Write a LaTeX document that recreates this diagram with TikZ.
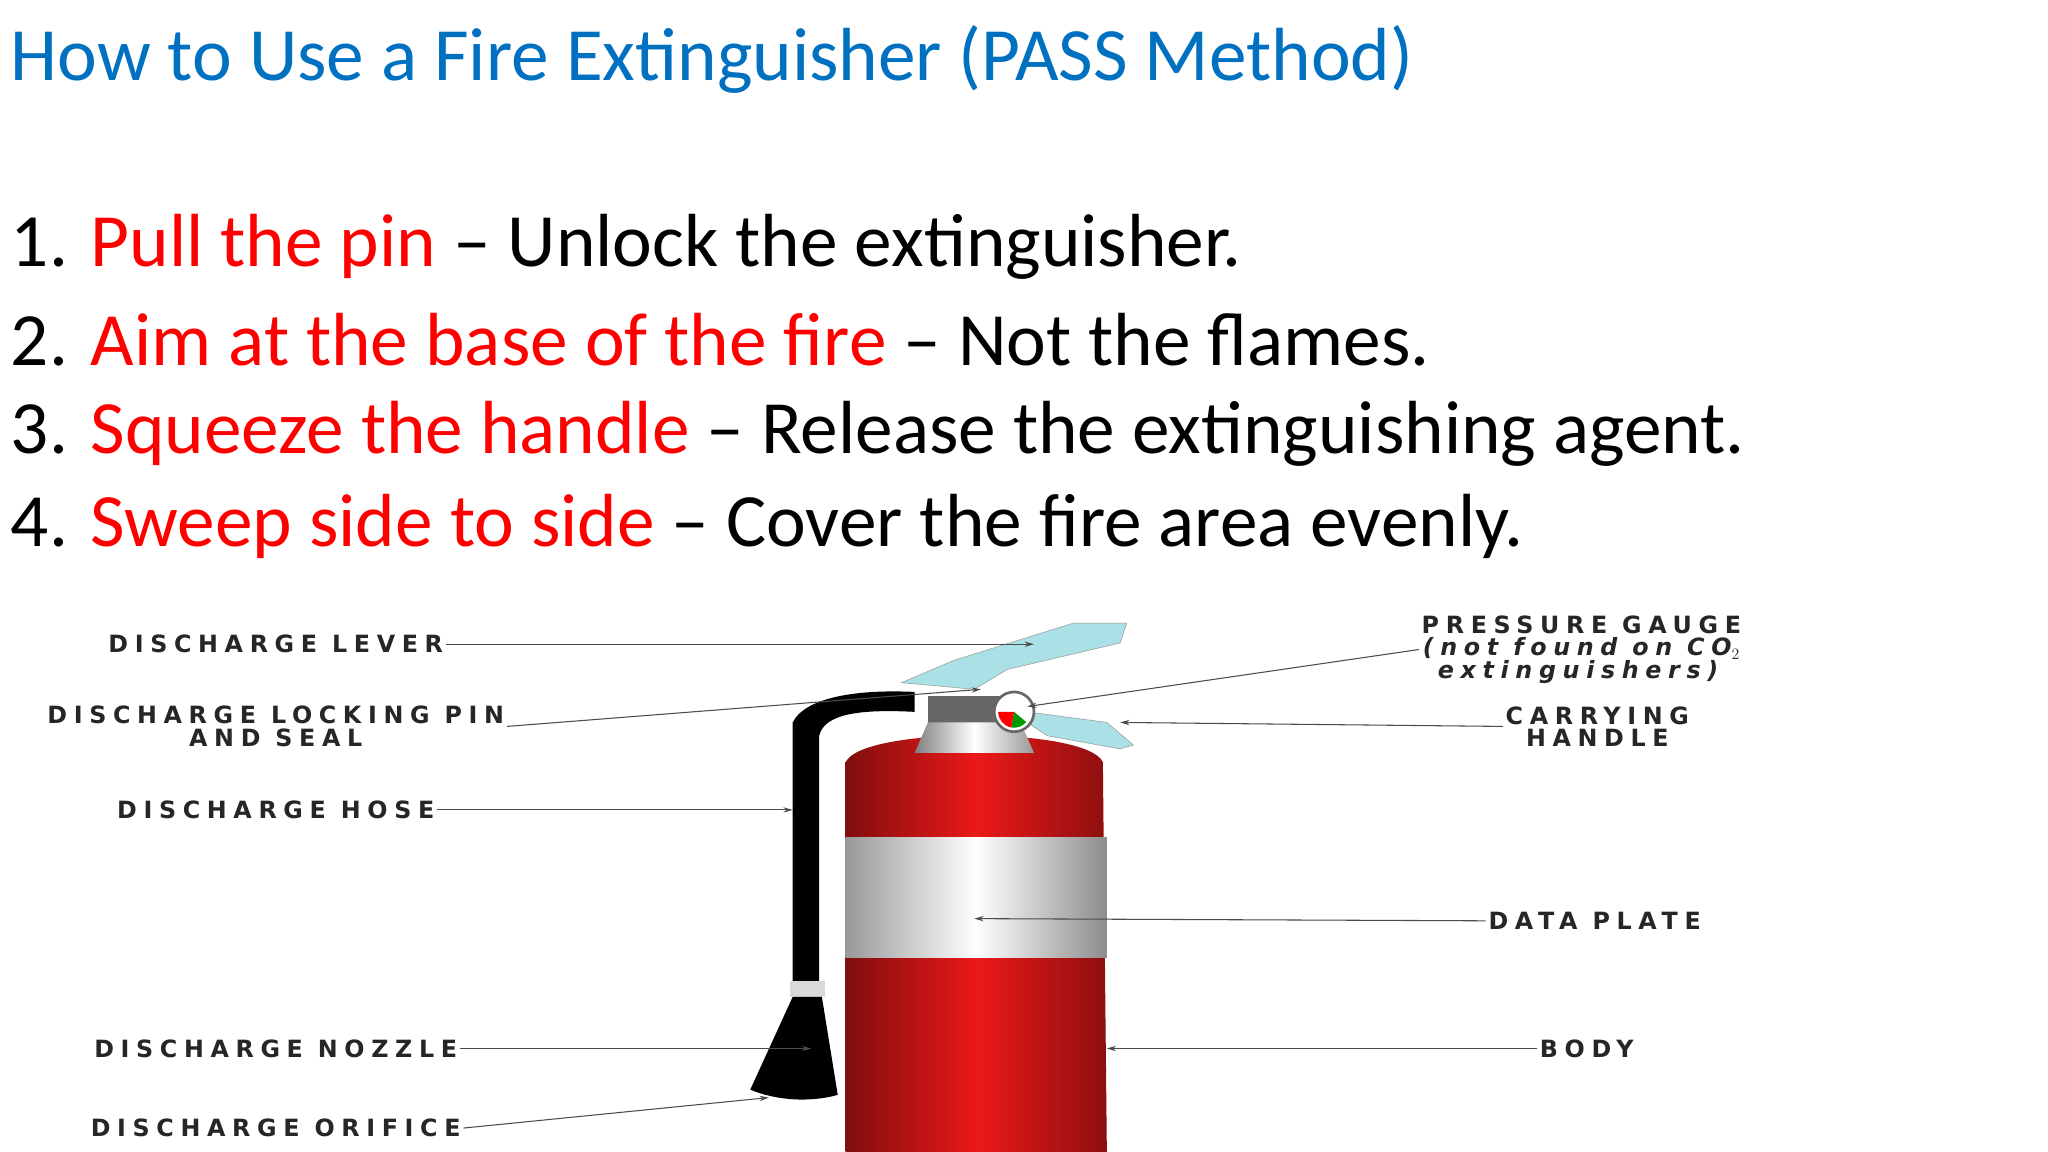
\documentclass[tikz,border=0pt]{standalone}
\usepackage{fontspec}
\setmainfont{Carlito}
\newfontfamily\lab[LetterSpace=28]{DejaVu Sans Bold}
\usetikzlibrary{arrows.meta}
\definecolor{tblue}{RGB}{0,112,192}
\definecolor{ered}{RGB}{235,25,25}
\definecolor{lblue}{RGB}{170,225,230}
\begin{document}
\begin{tikzpicture}[x=1bp,y=-1bp,
  lbl/.style={font=\lab\fontsize{18}{17}\selectfont,align=center,text=black!85,inner sep=2bp},
  lead/.style={draw=black!70,line width=0.8bp,-{Stealth[length=7bp,width=4bp]}},
  txt/.style={anchor=west,font=\fontsize{57}{60}\selectfont,inner sep=0}]
\useasboundingbox[fill=white] (0,0) rectangle (1545,869);
\node[anchor=west,inner sep=0,text=tblue,font=\fontsize{57}{60}\selectfont] (title) at (8,45) {How to Use a Fire Extinguisher (PASS Method)};
\node[txt] (l1) at (8,186) {1. \textcolor{red}{Pull the pin} – Unlock the extinguisher.};
\node[txt] (l2) at (8,256) {2. \textcolor{red}{Aim at the base of the fire} – Not the flames.};
\node[txt] (l3) at (8,327) {3. \textcolor{red}{Squeeze the handle} – Release the extinguishing agent.};
\node[txt] (l4) at (8,397) {4. \textcolor{red}{Sweep side to side} – Cover the fire area evenly.};
% extinguisher
\fill[black] (598,545) .. controls (608,525) and (650,520) .. (690,522) -- (690,537) .. controls (650,535) and (622,538) .. (618,555) -- (618,745) -- (598,745) -- cycle;
\fill[white!85!black] (596,740) rectangle (622,752);
\fill[black] (598,752) -- (620,752) -- (632,826) .. controls (610,832) and (585,830) .. (566,822) -- cycle;
\shade[left color=ered!55!black,right color=ered!60!black,middle color=ered] (638,575) .. controls (650,548) and (820,548) .. (832,575) -- (835,869) -- (638,869) -- cycle;
\shade[left color=black!40,right color=black!45,middle color=white] (638,632) rectangle (835,722);
\fill[black!60] (700,525) rectangle (770,555);
\shade[left color=black!50,right color=black!40,middle color=white] (700,545) -- (770,545) -- (780,568) -- (690,568) -- cycle;
\fill[lblue,draw=black!40] (680,515) -- (720,498) -- (810,470) -- (850,470) -- (845,485) -- (760,505) -- (735,520) -- cycle;
\fill[lblue,draw=black!40] (760,535) -- (835,545) -- (855,562) -- (845,565) -- (790,555) -- cycle;
\draw[fill=white,draw=black!60,line width=2bp] (765,537) circle (15);
\fill[green!60!black] (765,537) -- ++(100:12) arc (100:40:12) -- cycle;
\fill[red] (765,537) -- ++(180:12) arc (180:100:12) -- cycle;
% labels
\node[lbl] (a) at (208,486) {DISCHARGE LEVER};
\node[lbl] (b) at (208,548) {DISCHARGE LOCKING PIN\\AND SEAL};
\node[lbl] (c) at (208,611) {DISCHARGE HOSE};
\node[lbl] (d) at (208,791) {DISCHARGE NOZZLE};
\node[lbl] (e) at (208,851) {DISCHARGE ORIFICE};
\node[lbl] (f) at (1193,490) {PRESSURE GAUGE\\\textit{(not found on CO$_2$}\\\textit{extinguishers)}};
\node[lbl] (g) at (1205,548) {CARRYING\\HANDLE};
\node[lbl] (h) at (1203,695) {DATA PLATE};
\node[lbl] (i) at (1197,791) {BODY};
\coordinate (ta) at (780,486); \coordinate (tb) at (740,520);
\coordinate (tc) at (598,611); \coordinate (td) at (612,791);
\coordinate (te) at (580,828); \coordinate (tf) at (775,533);
\coordinate (tg) at (845,545); \coordinate (th) at (735,693);
\coordinate (ti) at (835,791);
\draw[lead] (a) -- (ta); \draw[lead] (b.east) -- (tb); \draw[lead] (c) -- (tc);
\draw[lead] (d) -- (td); \draw[lead] (e.east) -- (te);
\draw[lead] (f.west) -- (tf); \draw[lead] (g.west) -- (tg);
\draw[lead] (h) -- (th); \draw[lead] (i) -- (ti);
\end{tikzpicture}
\end{document}
